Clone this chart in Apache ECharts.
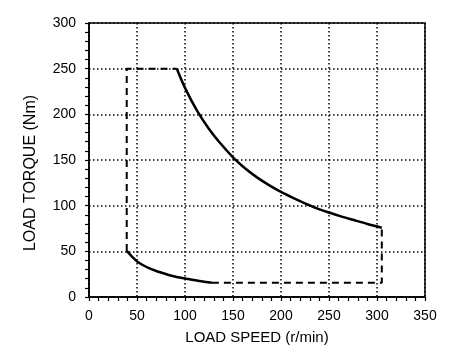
<!DOCTYPE html>
<html>
<head>
<meta charset="utf-8">
<script src="https://cdn.jsdelivr.net/npm/echarts@6/dist/echarts.min.js"></script>
<style>
  html, body { margin: 0; padding: 0; background: #fff; }
  #chart { width: 474px; height: 347px; }
</style>
</head>
<body>
<div id="chart"></div>
<script>
// Constant-power region: load speed (r/min) vs load torque (Nm)
const highSpeed  = [91.5, 100, 112.5, 125, 137.5, 150, 162.5, 175, 187.5, 200, 212.5, 225, 237.5, 250, 262.5, 275, 290, 305];
const highTorque = [250, 229, 204, 184, 167.5, 153, 141, 131, 122.5, 115, 108.5, 102.5, 97, 92.5, 88.3, 84.5, 80, 75.9];

// Low-torque curve at the bottom left
const lowSpeed  = [39.3, 45, 50, 56, 62.5, 70, 77.5, 85, 92.5, 100, 107.5, 115, 121.5, 128];
const lowTorque = [50.5, 44, 39, 35, 31.5, 28.5, 26, 23.5, 21.7, 20.3, 18.8, 17.5, 16.5, 15.7];

// Dashed limit boundaries
const leftLimitSpeed   = [39.3, 39.3, 91.5];
const leftLimitTorque  = [50.5, 250, 250];
const rightLimitSpeed  = [128, 305, 305];
const rightLimitTorque = [15.7, 15.7, 75.9];

const xTicks = { min: 0, max: 350, interval: 50 };
const yTicks = { min: 0, max: 300, interval: 50 };

const pairs = (xs, ys) => xs.map((x, i) => [x, ys[i]]);

const font = 'Liberation Sans';
const chart = echarts.init(document.getElementById('chart'));
chart.setOption({
  animation: false,
  grid: {
    left: 89, right: 49, top: 23, bottom: 50, outerBoundsMode: 'none',
    show: true, borderColor: '#000', borderWidth: 1.5, backgroundColor: 'transparent'
  },
  xAxis: {
    type: 'value', min: xTicks.min, max: xTicks.max, interval: xTicks.interval,
    name: 'LOAD SPEED (r/min)', nameLocation: 'middle', nameGap: 33, nameMoveOverlap: false,
    nameTextStyle: { fontFamily: font, fontSize: 15, color: '#000' },
    axisLine: { lineStyle: { color: '#000', width: 1.5 } },
    axisTick: { show: true, length: 4, lineStyle: { color: '#000', width: 1.2 } },
    minorTick: { show: true, splitNumber: 5, length: 4, lineStyle: { color: '#000', width: 1.2 } },
    axisLabel: { fontFamily: font, fontSize: 14, color: '#000', margin: 12 },
    splitLine: { show: true, lineStyle: { color: '#000', type: [1.5, 2.5], width: 1.5 } }
  },
  yAxis: {
    type: 'value', min: yTicks.min, max: yTicks.max, interval: yTicks.interval,
    name: 'LOAD TORQUE (Nm)', nameLocation: 'middle', nameGap: 50, nameMoveOverlap: false,
    nameTextStyle: { fontFamily: font, fontSize: 16, color: '#000', padding: [0, 26, 0, 0] },
    axisLine: { show: true, lineStyle: { color: '#000', width: 1.5 } },
    axisTick: { show: true, length: 4, lineStyle: { color: '#000', width: 1.2 } },
    minorTick: { show: true, splitNumber: 5, length: 4, lineStyle: { color: '#000', width: 1.2 } },
    axisLabel: { fontFamily: font, fontSize: 14, color: '#000', margin: 13 },
    splitLine: { show: true, lineStyle: { color: '#000', type: [1.5, 2.5], width: 1.5 } }
  },
  series: [
    {
      type: 'line', data: pairs(highSpeed, highTorque), smooth: 0.3,
      symbol: 'none', lineStyle: { color: '#000', width: 2.5 }
    },
    {
      type: 'line', data: pairs(lowSpeed, lowTorque), smooth: 0.3,
      symbol: 'none', lineStyle: { color: '#000', width: 2.5 }
    },
    {
      type: 'line', data: pairs(leftLimitSpeed, leftLimitTorque),
      symbol: 'none', lineStyle: { color: '#000', width: 2, type: [7, 5] }
    },
    {
      type: 'line', data: pairs(rightLimitSpeed, rightLimitTorque),
      symbol: 'none', lineStyle: { color: '#000', width: 2, type: [7, 5] }
    }
  ]
});
</script>
</body>
</html>
